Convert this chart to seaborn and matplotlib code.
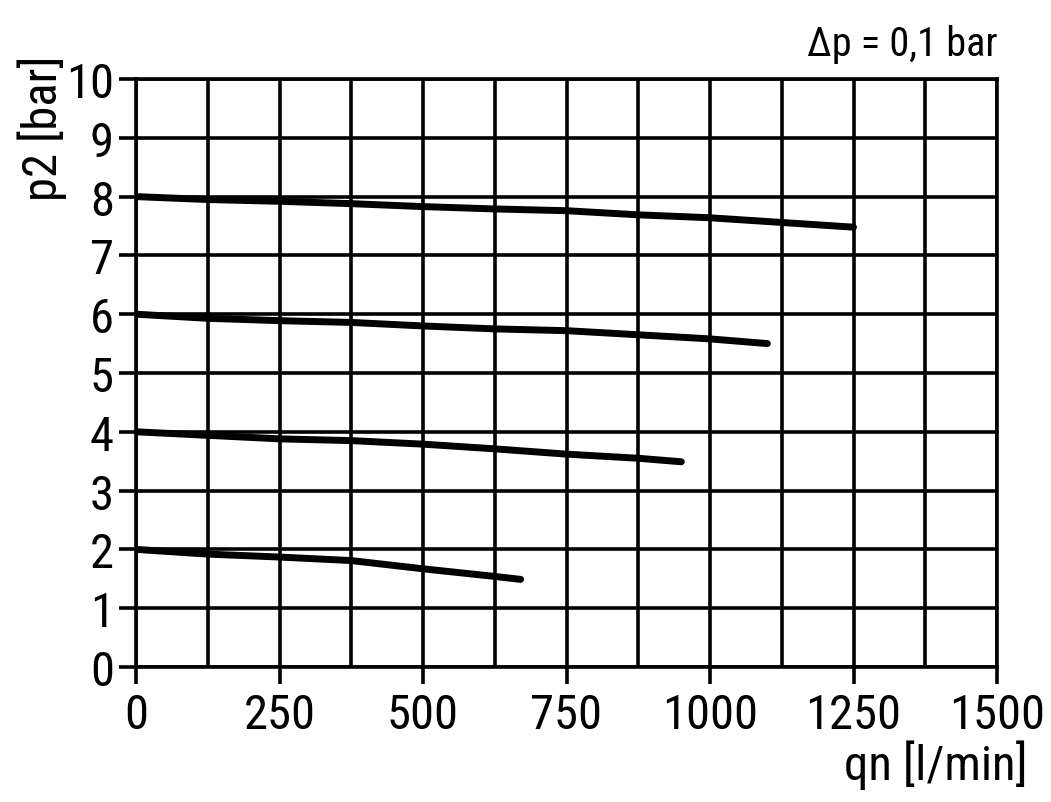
import matplotlib
matplotlib.use("Agg")
import matplotlib.pyplot as plt
import seaborn as sns
import pandas as pd
from matplotlib.ticker import MultipleLocator
from matplotlib import font_manager

# ---- data ----
q_p8 = [0, 125, 250, 375, 500, 625, 750, 875, 1000, 1125, 1250]
p_p8 = [8.0, 7.95, 7.92, 7.88, 7.83, 7.79, 7.76, 7.69, 7.64, 7.56, 7.48]

q_p6 = [0, 125, 250, 375, 500, 625, 750, 875, 1000, 1100]
p_p6 = [6.0, 5.93, 5.89, 5.86, 5.80, 5.75, 5.72, 5.65, 5.58, 5.50]

q_p4 = [0, 125, 250, 375, 500, 625, 750, 875, 950]
p_p4 = [4.0, 3.94, 3.88, 3.85, 3.79, 3.71, 3.62, 3.55, 3.49]

q_p2 = [0, 125, 250, 375, 500, 625, 670]
p_p2 = [2.0, 1.92, 1.87, 1.81, 1.67, 1.54, 1.49]

x_ticks = [0, 250, 500, 750, 1000, 1250, 1500]
y_ticks = [0, 1, 2, 3, 4, 5, 6, 7, 8, 9, 10]

frames = []
for name, q, p in [("8", q_p8, p_p8), ("6", q_p6, p_p6), ("4", q_p4, p_p4), ("2", q_p2, p_p2)]:
    frames.append(pd.DataFrame({"qn": q, "p2": p, "set": name}))
df = pd.concat(frames, ignore_index=True)

sns.set_theme(style="white")

# pick a narrow font if one is installed
installed = {f.name for f in font_manager.fontManager.ttflist}
narrow = None
for cand in ["Liberation Sans Narrow", "Arial Narrow", "Roboto Condensed",
             "Open Sans Condensed"]:
    if cand in installed:
        narrow = cand
        break
if narrow:
    plt.rcParams["font.family"] = [narrow, "Liberation Sans", "DejaVu Sans"]
    fs_tick, fs_lab, fs_note = 35, 35, 29
else:
    plt.rcParams["font.family"] = ["Liberation Sans", "DejaVu Sans"]
    fs_tick, fs_lab, fs_note = 31, 31, 26

fig = plt.figure(figsize=(10.51, 8.03), dpi=100)
ax = fig.add_axes([136 / 1051, 1 - 668 / 803, (997 - 136) / 1051, (668 - 80) / 803])

sns.lineplot(data=df, x="qn", y="p2", hue="set", palette=["black"] * 4,
             linewidth=5, legend=False, ax=ax, sort=False,
             solid_capstyle="round", zorder=5)

ax.set_xlim(0, 1500)
ax.set_ylim(0, 10)
ax.set_xticks(x_ticks)
ax.set_yticks(y_ticks)
ax.xaxis.set_minor_locator(MultipleLocator(125))
ax.grid(True, which="both", color="black", linewidth=2.6)
ax.set_axisbelow(True)
ax.tick_params(axis="both", which="major", direction="out", length=12,
               width=2.6, color="black", labelsize=fs_tick, labelcolor="black",
               bottom=True, left=True)
ax.tick_params(axis="x", which="major", pad=6)
ax.tick_params(axis="y", which="major", pad=4)
ax.tick_params(axis="both", which="minor", length=0)
for s in ax.spines.values():
    s.set_visible(True)
    s.set_color("black")
    s.set_linewidth(2.6)
ax.set_xlabel("")
ax.set_ylabel("")

fig.text(42 / 1051, 1 - 128 / 803, "p2 [bar]", rotation=90, ha="center", va="center",
         fontsize=fs_lab, color="black")
fig.text(1028 / 1051, 1 - 765 / 803, "qn [l/min]", ha="right", va="center",
         fontsize=fs_lab, color="black")
fig.text(998 / 1051, 1 - 45 / 803, "Δp = 0,1 bar", ha="right", va="center",
         fontsize=fs_note, color="black")

fig.savefig("out.png", dpi=100, facecolor="white")
